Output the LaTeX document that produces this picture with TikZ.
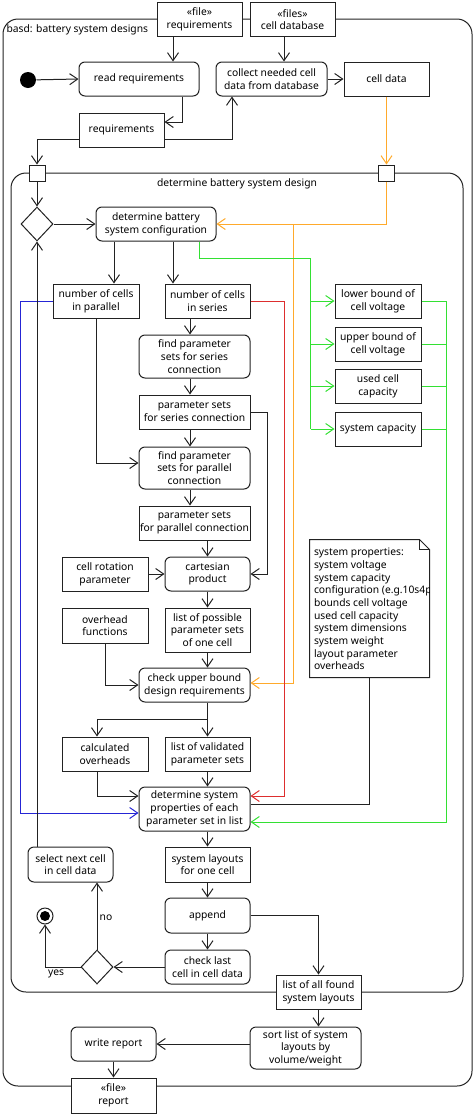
\documentclass[tikz,border=0pt]{standalone}
\usepackage{fontspec}
\setmainfont{Noto Sans}
\usetikzlibrary{arrows.meta,shapes.geometric,calc}
\definecolor{cOr}{HTML}{FFAA2B}
\definecolor{cGr}{HTML}{33E033}
\definecolor{cBl}{HTML}{2525D5}
\definecolor{cRd}{HTML}{DD2E2E}
\definecolor{cLn}{HTML}{222222}
\begin{document}
\begin{tikzpicture}[x=1pt,y=-1pt,
  font=\fontsize{10.3}{12.7}\selectfont,
  line width=1pt, draw=cLn,
  obj/.style={draw=cLn, fill=white, inner sep=1pt, align=center, minimum width=85pt, minimum height=34pt},
  act/.style={obj, rounded corners=6pt},
  pin/.style={draw=cLn, fill=white, minimum size=16pt, inner sep=0pt},
  dec/.style={diamond, draw=cLn, fill=white, minimum width=32pt, minimum height=34pt, inner sep=0pt},
  arr/.style={-{Straight Barb[length=8pt,width=11pt]}},
  lbl/.style={inner sep=0pt}
]
\useasboundingbox (0,0) rectangle (474,1114);
% frames
\draw[cLn, rounded corners=15pt] (3,19) rectangle (472,1086);
\node[lbl, anchor=west] (ttl) at (6,30) {basd: battery system designs};
\draw[cLn, rounded corners=15pt] (11,173) rectangle (463,992);
\node[lbl] (ttl2) at (237,184) {determine battery system design};

% nodes
\node[obj] (freq) at (199.5,19.5) {«file»\\requirements};
\node[obj] (fdb) at (292.5,19.5) {«files»\\cell database};
\node[circle, fill=black, minimum size=16pt, inner sep=0pt] (start) at (28,80) {};
\node[act, minimum width=120pt] (read) at (139,79) {read requirements};
\node[act, minimum width=111pt] (collect) at (271.5,79) {collect needed cell\\data from database};
\node[obj] (celldata) at (386.5,79) {cell data};
\node[obj] (req) at (121.5,130) {requirements};
\node[pin] (pinL) at (37,173) {};
\node[pin] (pinR) at (386.5,173) {};
\node[dec] (dec1) at (37,224) {};
\node[act, minimum width=120pt] (config) at (156,224) {determine battery\\system configuration};
\node[obj, minimum width=86pt] (par) at (96,301) {number of cells\\in parallel};
\node[obj] (ser) at (207.5,301) {number of cells\\in series};
\node[obj, minimum width=86pt] (lb) at (378,301) {lower bound of\\cell voltage};
\node[obj, minimum width=86pt] (ub) at (378,344) {upper bound of\\cell voltage};
\node[obj, minimum width=86pt] (used) at (378,386) {used cell\\capacity};
\node[obj, minimum width=86pt] (syscap) at (378,429) {system capacity};
\node[act, minimum width=111pt, minimum height=43pt] (fser) at (194.5,356.5) {find parameter\\sets for series\\connection};
\node[obj, minimum width=111pt] (pser) at (194.5,412) {parameter sets\\for series connection};
\node[act, minimum width=111pt, minimum height=42pt] (fpar) at (194.5,468) {find parameter\\sets for parallel\\connection};
\node[obj, minimum width=111pt] (ppar) at (194.5,523) {parameter sets\\for parallel connection};
\node[act] (cart) at (207.5,574) {cartesian\\product};
\node[obj, minimum width=86pt] (rot) at (105,574) {cell rotation\\parameter};
\node[obj, minimum height=44pt] (lposs) at (207.5,630) {list of possible\\parameter sets\\of one cell};
\node[obj, minimum width=86pt, minimum height=35pt] (ovh) at (105,625.5) {overhead\\functions};
\node[act, minimum width=111pt] (check) at (194.5,685) {check upper bound\\design requirements};
\node[obj, minimum width=86pt] (calc) at (105,754) {calculated\\overheads};
\node[obj] (lval) at (207.5,754) {list of validated\\parameter sets};
\node[act, minimum width=111pt, minimum height=44pt] (props) at (194.5,809) {determine system\\properties of each\\parameter set in list};
\node[obj, minimum height=35pt] (sysl) at (207.5,864.5) {system layouts\\for one cell};
\node[act, minimum height=35pt] (sel) at (70.5,864.5) {select next cell\\in cell data};
\node[act, minimum height=35pt] (append) at (207.5,915.5) {append};
\node[circle, draw=cLn, minimum size=16pt, inner sep=0pt,
  path picture={\fill[black] (path picture bounding box.center) circle[radius=5pt];}] (final) at (45,916) {};
\node[act] (lastc) at (207.5,967) {check last\\cell in cell data};
\node[dec] (dec2) at (97,967) {};
\node[obj] (lall) at (318.5,992) {list of all found\\system layouts};
\node[act, minimum width=111pt, minimum height=42pt] (sort) at (305.5,1048) {sort list of system\\layouts by\\volume/weight};
\node[act] (wrep) at (113.5,1044) {write report};
\node[obj, minimum height=35pt] (frep) at (113.5,1095.5) {«file»\\report};

% note
\node[minimum width=119pt, minimum height=137pt, inner sep=0pt] (note) at (369.5,608.5) {};
\draw[fill=white] (note.north west) -- ([xshift=-10pt]note.north east) -- ([yshift=-10pt]note.north east) -- (note.south east) -- (note.south west) -- cycle;
\draw ([xshift=-10pt]note.north east) |- ([yshift=-10pt]note.north east);
\begin{scope}
\clip (note.south west) rectangle (note.north east);
\node[anchor=north west, inner sep=0pt, align=left] (notetxt) at ([xshift=4pt,yshift=-8pt]note.north west)
 {system properties:\\system voltage\\system capacity\\configuration (e.g.10s4p\\bounds cell voltage\\used cell capacity\\system dimensions\\system weight\\layout parameter\\overheads};
\end{scope}

% coordinates for buses
\coordinate (oj) at (293.5,224);
\coordinate (gbus) at (310.5,258);
\coordinate (gR) at (446.5,0);
\coordinate (bl) at (20.5,0);
\coordinate (rd) at (284.5,0);
\coordinate (col) at (190,0);
\coordinate (pc) at (267.5,0);
\coordinate (cj) at (207.5,719);

% connectors (top)
\draw[arr] ([xshift=-26.5pt]freq.south) -- ([xshift=-26.5pt]freq.south |- read.north);
\draw[arr] ([xshift=-8.5pt]fdb.south) -- ([xshift=-8.5pt]fdb.south |- collect.north);
\draw[arr] (start) -- (read.west);
\draw[arr] (collect.east) -- (celldata.west);
\draw[arr] ([xshift=43pt]read.south) |- ([yshift=8pt]req.east);
\draw[arr] ([yshift=-9pt]req.east) -| ([xshift=-39.5pt]collect.south);
\draw[arr] ([yshift=-9pt]req.west) -| (pinL.north);
\draw[arr, cOr] (celldata.south) -- (pinR.north);
\draw[arr] (pinL.south) -- (dec1.north);
\draw[arr] (dec1.east) -- (config.west);
% orange
\draw[arr, cOr] (pinR.south) |- (config.east);
\draw[arr, cOr] (oj) |- ([yshift=2pt]check.east);
% config outputs
\draw[arr] ([xshift=-42pt]config.south) -- ([xshift=-42pt]config.south |- par.north);
\draw[arr] ([xshift=17pt]config.south) -- ([xshift=17pt]config.south |- ser.north);
% green
\draw[cGr] ([xshift=43pt]config.south) |- (gbus) -- (gbus |- syscap.west);
\draw[arr, cGr] (gbus |- lb.west) -- (lb.west);
\draw[arr, cGr] (gbus |- ub.west) -- (ub.west);
\draw[arr, cGr] (gbus |- used.west) -- (used.west);
\draw[arr, cGr] (gbus |- syscap.west) -- (syscap.west);
\draw[cGr] (lb.east) -- (lb.east -| gR);
\draw[cGr] (ub.east) -- (ub.east -| gR);
\draw[cGr] (used.east) -- (used.east -| gR);
\draw[cGr] (syscap.east) -- (syscap.east -| gR);
\draw[arr, cGr] (lb.east -| gR) |- ([yshift=-13pt]props.east);
% blue, red
\draw[arr, cBl] (par.west) -- (par.west -| bl) |- ([yshift=-4pt]props.west);
\draw[arr, cRd] (ser.east) -- (ser.east -| rd) |- ([yshift=13pt]props.east);
% middle column
\draw[arr] (par.south) |- ([yshift=5pt]fpar.west);
\draw[arr] (ser.south -| col) -- (fser.north -| col);
\draw[arr] (fser.south -| col) -- (pser.north -| col);
\draw[arr] (pser.south -| col) -- (fpar.north -| col);
\draw[arr] (fpar.south -| col) -- (ppar.north -| col);
\draw[arr] (ppar.south -| cart.north) -- (cart.north);
\draw[arr] (pser.east) -- (pser.east -| pc) |- (cart.east);
\draw[arr] (rot.east) -- (cart.west);
\draw[arr] (cart.south) -- (lposs.north);
\draw[arr] (lposs.south) -- (lposs.south |- check.north);
\draw[arr] (ovh.south) |- (check.west);
\draw[arr] (check.south -| lval.north) -- (lval.north);
\draw[arr] (cj) -| ([xshift=-8pt]calc.north);
\draw[arr] (lval.south) -- (lval.south |- props.north);
\draw[arr] ([xshift=-8pt]calc.south) |- ([yshift=13pt]props.west);
\draw ([yshift=5pt]props.east) -| (note.south);
\draw[arr] (props.south -| sysl.north) -- (sysl.north);
\draw[arr] (sysl.south) -- (append.north);
\draw[arr] (append.south) -- (lastc.north);
\draw[arr] (append.east) -| (lall.north);
\draw[arr] (lastc.west) -- (dec2.east);
\draw[arr] (dec2.north) -- (dec2.north |- sel.south);
\draw[arr] (dec2.west) -| (final.south);
\draw[arr] (dec1.south |- sel.north) -- (dec1.south);
\node[lbl] (no) at (106,918) {no};
\node[lbl] (yes) at (56,974) {yes};
% bottom
\draw[arr] (lall.south) -- (lall.south |- sort.north);
\draw[arr] (wrep.east -| sort.west) -- (wrep.east);
\draw[arr] (wrep.south) -- (frep.north);
\end{tikzpicture}
\end{document}
